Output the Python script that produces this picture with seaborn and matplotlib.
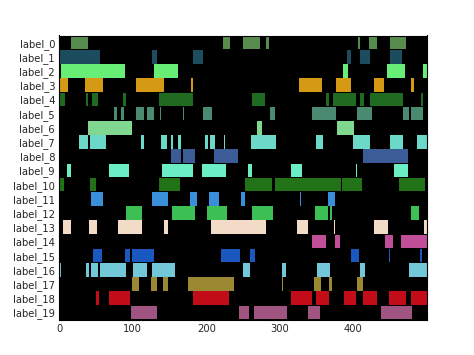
import numpy as np
import pandas as pd
import seaborn as sns
import matplotlib.pyplot as plt

# row names and their colours
labels = ['label_%d' % i for i in range(20)]
colors = ['#588c4e', '#1b4d5e', '#66ee77', '#d49a14', '#1f6b22',
          '#4a8a70', '#80d890', '#6cd8c8', '#3c5c98', '#6ceec4',
          '#227218', '#3a8fdb', '#3cc054', '#f2dcc8', '#c04e98',
          '#1a58c0', '#72c8d8', '#9a8832', '#c20c18', '#a05482']

# (start, end) of each segment
spans_0 = [(16, 39), (223, 232), (250, 273), (281, 285), (406, 409), (421.5, 433), (450, 471.5)]
spans_1 = [(0, 55), (126, 133.5), (182.5, 196), (392, 397), (409, 423), (450, 466)]
spans_2 = [(3, 90), (129, 162), (386, 393), (446.5, 470), (495, 500)]
spans_3 = [(0, 12), (34.5, 59), (104.5, 143), (179, 181.5), (326.5, 358), (377, 397.5), (429, 442), (479, 483)]
spans_4 = [(0, 8), (36.5, 38.5), (45, 52.5), (87, 90.5), (136, 182.5), (262, 280), (363, 367),
           (372, 403.5), (409, 414.5), (423.5, 468.5), (492.5, 495)]
spans_5 = [(74.5, 79), (84, 88.5), (104.5, 116), (120, 129.5), (137, 138.5), (168, 170), (195, 207.5),
           (286.5, 293.5), (344, 377), (405, 426), (468, 475.5), (479, 495)]
spans_6 = [(39, 99), (268.5, 275.5), (378, 401)]
spans_7 = [(27.5, 38.5), (42, 64), (111.5, 116), (138.5, 146.5), (152, 154.5), (161, 166), (198, 202),
           (205, 212), (224, 225.5), (261, 295), (350, 359), (400, 422.5), (450, 468), (487, 500)]
spans_8 = [(151.5, 165.5), (169, 185), (210.5, 243), (413.5, 474.5)]
spans_9 = [(10.5, 16), (68, 95), (140, 182.5), (194.5, 226.5), (257, 262), (316, 330.5), (403.5, 405), (455.5, 474.5)]
spans_10 = [(1, 6), (42, 50), (136, 155), (155, 164), (252.5, 290), (293.5, 377), (377, 384), (385.5, 412.5), (463, 498.5)]
spans_11 = [(43, 59), (126, 148.5), (178, 187), (204, 217), (248, 252.5), (327.5, 329.5), (366, 376)]
spans_12 = [(91, 113), (154, 185), (201.5, 228), (262, 291), (348, 366), (369, 371), (479, 490)]
spans_13 = [(4.5, 16.5), (40, 51), (79.5, 112.5), (143, 147.5), (206.5, 281), (324, 339), (373.5, 376),
            (429, 447.5), (496, 500)]
spans_14 = [(344.5, 363.5), (375, 382), (444, 454), (465.5, 500)]
spans_15 = [(46.5, 58), (89.5, 96.5), (99.5, 128.5), (220, 246), (259.5, 266), (397.5, 408), (448.5, 450), (490.5, 494)]
spans_16 = [(0.5, 3), (36.5, 40), (43, 52.5), (55, 91), (101, 119), (126, 157.5), (249.5, 259.5),
            (303.5, 308), (351.5, 368), (409, 416), (475.5, 500)]
spans_17 = [(99.5, 109), (124.5, 132.5), (141, 148.5), (175, 238), (303, 304.5), (347, 356), (367, 371), (405, 413.5)]
spans_18 = [(50, 53.5), (68, 96.5), (181.5, 231.5), (316, 343.5), (349, 367), (387.5, 403.5), (413.5, 433),
            (448.5, 471.5), (479, 500)]
spans_19 = [(97, 133.5), (244.5, 258), (265.5, 310.5), (338.5, 355.5), (438.5, 480)]

rows = [spans_0, spans_1, spans_2, spans_3, spans_4, spans_5, spans_6, spans_7, spans_8, spans_9,
        spans_10, spans_11, spans_12, spans_13, spans_14, spans_15, spans_16, spans_17, spans_18, spans_19]

#スタイル
sns.set_theme(style="white", rc={"axes.facecolor": "black",
                                 "axes.edgecolor": "black",
                                 "xtick.direction": "in",
                                 "ytick.direction": "in"})
plt.rcParams['font.family'] = ['DejaVu Sans']

fig, ax = plt.subplots(figsize=(4.74, 3.55), dpi=100)
fig.subplots_adjust(left=0.125, right=0.9, bottom=0.1, top=0.9)

for i, spans in enumerate(rows):
    ax.broken_barh([(s, e - s) for s, e in spans], (i - 0.48, 0.96),
                   facecolors=colors[i], edgecolor='none')

ax.set_xlim(0, 500)
ax.set_ylim(19.5, -0.5)
ax.set_xticks([0, 100, 200, 300, 400])
ax.set_yticks(range(20))
ax.set_yticklabels(labels)
ax.tick_params(axis='both', direction='in', color='black', length=4, width=0.8,
               labelsize=7.2, top=True, right=True, pad=3)
for s in ax.spines.values():
    s.set_linewidth(0.8)

fig.savefig('out.png', dpi=100, facecolor='white')
